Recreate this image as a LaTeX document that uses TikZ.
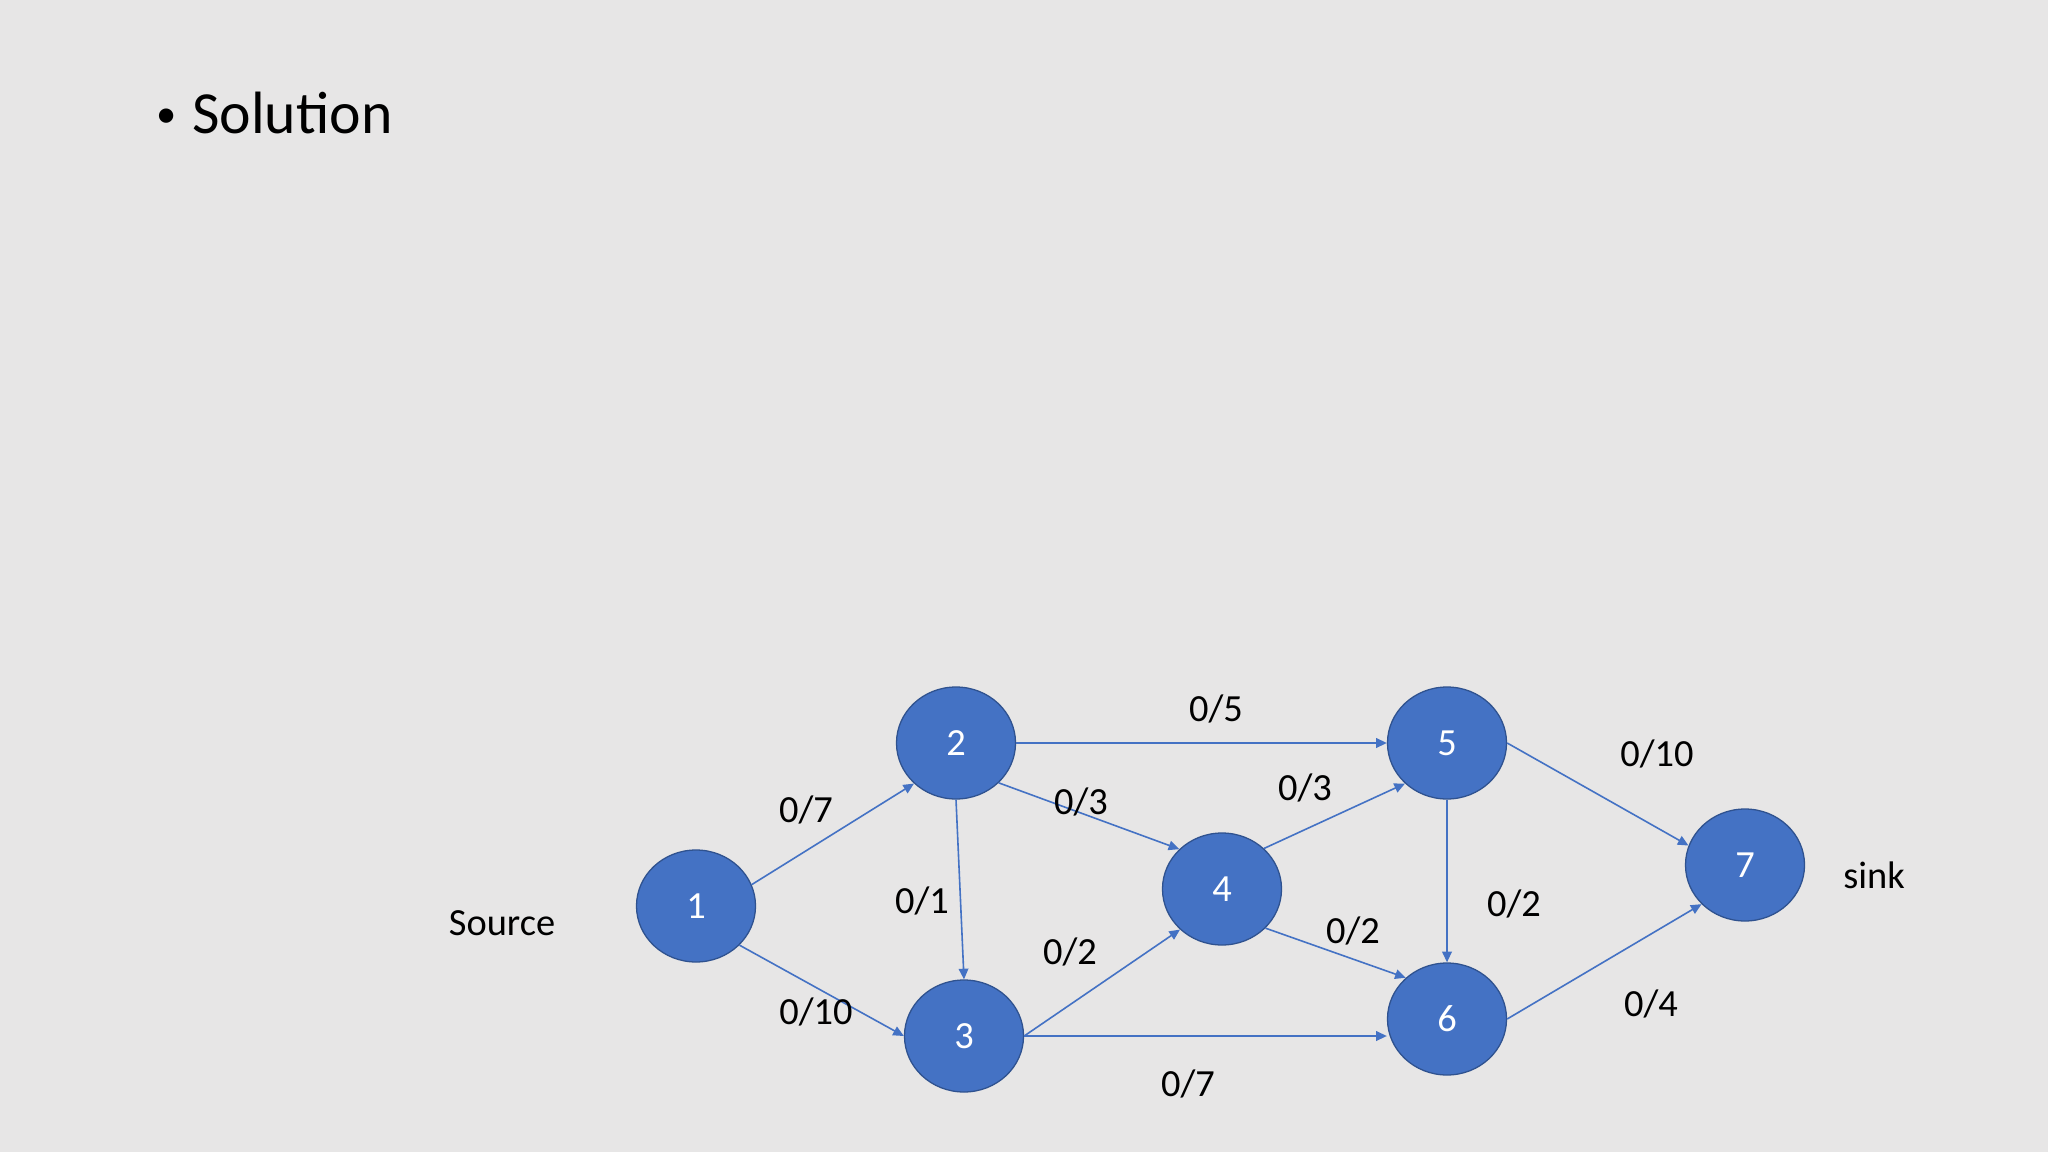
\documentclass[tikz,border=0pt]{standalone}
\usepackage{fontspec}
\setmainfont{Carlito}
\usetikzlibrary{shapes.geometric, arrows.meta, positioning}
\definecolor{slidegray}{HTML}{E7E6E6}
\definecolor{nodeblue}{HTML}{4472C4}
\definecolor{rimblue}{HTML}{2F528F}

\begin{document}
\begin{tikzpicture}[x=0.46875pt, y=-0.46875pt,
  vtx/.style={ellipse, draw=rimblue, line width=0.6pt, fill=nodeblue, minimum width=55.8pt, minimum height=52.5pt, inner sep=0pt, text=white, font=\fontsize{18}{21.6}\selectfont},
  lbl/.style={font=\fontsize{18}{21.6}\selectfont, inner sep=0pt},
  flow/.style={draw=nodeblue, line width=0.75pt, -{Triangle[length=5pt,width=4.5pt]}}]
  % Slide
  \fill[slidegray] (0,0) rectangle (2048,1152);
  \node[anchor=base west, inner sep=0pt, font=\fontsize{28}{33.6}\selectfont] (title) at (151,134)
    {\makebox[14pt][c]{\raisebox{3pt}{\fontsize{19}{20}\selectfont\textbullet}}\hspace{5.2pt}Solution};

  % Vertices
  \node[vtx] (v1) at (696,906) {1};
  \node[vtx] (v2) at (956,743) {2};
  \node[vtx] (v3) at (964,1036) {3};
  \node[vtx] (v4) at (1222,889) {4};
  \node[vtx] (v5) at (1447,743) {5};
  \node[vtx] (v6) at (1447,1019) {6};
  \node[vtx] (v7) at (1745,865) {7};
  \node[lbl] (src) at (502,923) {Source};
  \node[lbl] (snk) at (1874,875) {sink};

  % Edges
  \draw[flow] (v1.21) -- (v2.224);
  \draw[flow] (v1.-42) -- (v3.west);
  \draw[flow] (v2.south) -- (v3.north);
  \draw[flow] (v2.-43) -- (v4.137);
  \draw[flow] (v2.east) -- (v5.west);
  \draw[flow] (v3.east) -- (v4.224);
  \draw[flow] (v3.east) -- (v3.east -| v6.west);
  \draw[flow] (v4.44) -- (v5.224);
  \draw[flow] (v4.-42) -- (v6.135);
  \draw[flow] (v5.south) -- (v6.north);
  \draw[flow] (v5.east) -- (v7.161);
  \draw[flow] (v6.east) -- (v7.222);

  % Flow / capacity
  \node[lbl] (c12) at (806,810) {0/7};
  \node[lbl] (c13) at (816,1012) {0/10};
  \node[lbl] (c23) at (922,901) {0/1};
  \node[lbl] (c24) at (1081,802) {0/3};
  \node[lbl] (c25) at (1216,709) {0/5};
  \node[lbl] (c34) at (1070,952) {0/2};
  \node[lbl] (c36) at (1188,1084) {0/7};
  \node[lbl] (c45) at (1305,788) {0/3};
  \node[lbl] (c46) at (1353,931) {0/2};
  \node[lbl] (c56) at (1514,904) {0/2};
  \node[lbl] (c57) at (1657,754) {0/10};
  \node[lbl] (c67) at (1651,1004) {0/4};
\end{tikzpicture}
\end{document}
